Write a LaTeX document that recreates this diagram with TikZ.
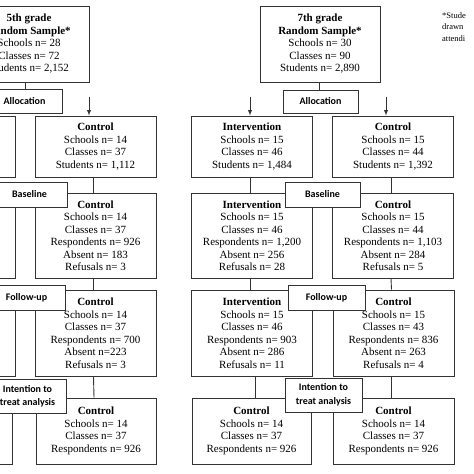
\documentclass[tikz,border=0pt]{standalone}
\usepackage{fontspec}
\setmainfont{Liberation Serif}
\newfontfamily\stagefont{Carlito}
\usetikzlibrary{arrows}
\tikzstyle{group}=[draw=black!80, line width=0.9pt, fill=white, align=center, inner sep=0pt, minimum width=121pt, font=\fontsize{11}{12.5}\selectfont]
\tikzstyle{stage}=[draw=black!80, line width=0.9pt, fill=white, align=center, inner sep=0pt, minimum width=75pt, minimum height=24pt, font=\stagefont\bfseries\fontsize{10}{13.5}\selectfont]
\tikzstyle{note}=[align=left, inner sep=0pt, anchor=north west, font=\fontsize{8.5}{11.5}\selectfont]
\tikzstyle{edge}=[draw=black!80, line width=0.9pt]
\tikzstyle{allocedge}=[->, -latex, draw=black!80, line width=0.9pt]

\begin{document}
\begin{tikzpicture}[x=1pt, y=-1pt]
	\useasboundingbox (0,0) rectangle (474,474);
	\clip (0,0) rectangle (474,474);
	% samples
	\draw (29,44) node[group, minimum width=120pt, minimum height=76pt] (g5) {\textbf{5th grade}\\\textbf{Random Sample*}\\Schools n= 28\\Classes n= 72\\Students n= 2,152};
	\draw (320,44) node[group, minimum width=120pt, minimum height=76pt] (g7) {\textbf{7th grade}\\\textbf{Random Sample*}\\Schools n= 30\\Classes n= 90\\Students n= 2,890};
	\draw (442,12) node[note] (n7) {*Stude\\drawn\\attendi};
	% 5th grade groups
	\draw (-45.5,146.5) node[group, minimum height=61pt] (int5r1) {};
	\draw (95.5,146.5) node[group, minimum height=61pt] (ctl5r1) {\textbf{Control}\\Schools n= 14\\Classes n= 37\\Students n= 1,112};
	\draw (-45.5,235.5) node[group, minimum height=85pt] (int5r2) {};
	\draw (95.5,235.5) node[group, minimum height=85pt] (ctl5r2) {\textbf{Control}\\Schools n= 14\\Classes n= 37\\Respondents n= 926\\Absent n= 183\\Refusals n= 3};
	\draw (-45.5,333) node[group, minimum height=86pt] (int5r3) {};
	\draw (95.5,333) node[group, minimum height=86pt] (ctl5r3) {\textbf{Control}\\Schools n= 14\\Classes n= 37\\Respondents n= 700\\Absent n=223\\Refusals n= 3};
	\draw (-47,431) node[group, minimum height=66pt, minimum width=119pt] (int5r4) {};
	\draw (96,431) node[group, minimum height=66pt, minimum width=120pt] (ctl5r4) {\textbf{Control}\\Schools n= 14\\Classes n= 37\\Respondents n= 926};
	% 7th grade groups
	\draw (252,146.5) node[group, minimum height=61pt] (int7r1) {\textbf{Intervention}\\Schools n= 15\\Classes n= 46\\Students n= 1,484};
	\draw (393,146.5) node[group, minimum height=61pt] (ctl7r1) {\textbf{Control}\\Schools n= 15\\Classes n= 44\\Students n= 1,392};
	\draw (252,235.5) node[group, minimum height=85pt] (int7r2) {\textbf{Intervention}\\Schools n= 15\\Classes n= 46\\Respondents n= 1,200\\Absent n= 256\\Refusals n= 28};
	\draw (393,235.5) node[group, minimum height=85pt] (ctl7r2) {\textbf{Control}\\Schools n= 15\\Classes n= 44\\Respondents n= 1,103\\Absent n= 284\\Refusals n= 5};
	\draw (252,333) node[group, minimum height=86pt] (int7r3) {\textbf{Intervention}\\Schools n= 15\\Classes n= 46\\Respondents n= 903\\Absent n= 286\\Refusals n= 11};
	\draw (393.5,333) node[group, minimum height=86pt] (ctl7r3) {\textbf{Control}\\Schools n= 15\\Classes n= 43\\Respondents n= 836\\Absent n= 263\\Refusals n= 4};
	\draw (251.5,431) node[group, minimum height=66pt, minimum width=119pt] (int7r4) {\textbf{Control}\\Schools n= 14\\Classes n= 37\\Respondents n= 926};
	\draw (393.5,431) node[group, minimum height=66pt] (ctl7r4) {\textbf{Control}\\Schools n= 14\\Classes n= 37\\Respondents n= 926};
	% connectors
	\coordinate (top5c) at (89,97);
	\coordinate (top7i) at (250,97);
	\coordinate (top7c) at (386,97);
	\draw[allocedge] (top5c) -- (top5c |- ctl5r1.north);
	\draw[allocedge] (top7i) -- (top7i |- int7r1.north);
	\draw[allocedge] (top7c) -- (top7c |- ctl7r1.north);
	\foreach \a/\b in {ctl5r1/ctl5r2, ctl5r2/ctl5r3, ctl5r3/ctl5r4, int7r1/int7r2, int7r2/int7r3, ctl7r1/ctl7r2, ctl7r2/ctl7r3, ctl7r3/ctl7r4}
		\draw[edge] ([xshift=-2pt]\a.south) -- ([xshift=-2pt]\b.north);
	\draw[edge] ([xshift=3pt]int7r3.south) -- ([xshift=3pt]int7r3.south |- int7r4.north);
	% stages
	\draw (24.5,101) node[stage, minimum height=24pt] (a5) {Allocation};
	\draw (320.5,101.5) node[stage, minimum height=23pt] (a7) {Allocation};
	\draw[edge] (a5.north -| 25,0) -- (g5.south -| 25,0);
	\draw[edge] (a7.north -| 319,0) -- (g7.south -| 319,0);
	\draw (29.5,194.5) node[stage, minimum height=25pt] (b5) {Baseline};
	\draw (322.5,194.5) node[stage, minimum height=25pt] (b7) {Baseline};
	\draw (26.5,297.5) node[stage, minimum width=77pt, minimum height=25pt] (f5) {Follow-up};
	\draw (326.5,297.5) node[stage, minimum width=77pt, minimum height=25pt] (f7) {Follow-up};
	\draw (27.5,396.5) node[stage, minimum width=77pt, minimum height=34pt] (t5) {Intention to\\treat analysis};
	\draw (323.5,395) node[stage, minimum width=77pt, minimum height=34pt] (t7) {Intention to\\treat analysis};
\end{tikzpicture}
\end{document}
